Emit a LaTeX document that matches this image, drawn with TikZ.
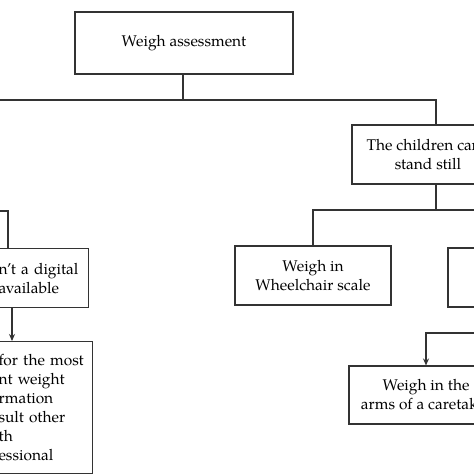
\documentclass[tikz,border=0pt]{standalone}
\usepackage{fontspec}
\setmainfont{TeX Gyre Pagella}
\usetikzlibrary{arrows.meta}
\begin{document}
\begin{tikzpicture}[x=1pt,y=-1pt,
  conn/.style={draw=black!80,line width=1.1pt},
  arr/.style={conn,-{Stealth[length=7pt,width=6pt]}},
  box/.style={draw=black!80,line width=1.1pt,fill=white,rectangle,inner sep=0pt,
    font=\fontsize{15.5}{19}\selectfont,align=center},
  lbox/.style={box,align=left,anchor=north west,inner xsep=2pt}
]
\useasboundingbox (0,0) rectangle (474,474);
\clip (0,0) rectangle (474,474);
\fill[white] (0,0) rectangle (474,474);

% nodes
\node[box,minimum width=218pt,minimum height=62pt] (t) at (184,43) {Weigh assessment};
\node[box,minimum width=152pt,minimum height=59pt] (r1) at (428,154.5) {The children can’t\\stand still};
\node[box,minimum width=156pt,minimum height=59pt] (w) at (313,275.5) {Weigh in\\Wheelchair scale};
\node[box,minimum width=150pt,minimum height=59pt] (r2) at (523,277.5) {};
\node[box,minimum width=154pt,minimum height=58pt] (c) at (426,395) {Weigh in the\\arms of a caretaker};
\node[lbox,minimum width=92pt,minimum height=59pt,text width=88pt] (l1) at (-4,248) {n’t a digital\\available};
\node[lbox,minimum width=96pt,minimum height=132pt,text width=92pt] (l2) at (-4,341) {for the most\\nt weight\\rmation\\sult other\\th\\essional};

% junction coordinates
\coordinate (j0) at (183,100);
\coordinate (jl) at (-80,100);
\coordinate (xr) at (436,0);
\coordinate (j1) at (436,210);
\coordinate (ll) at (-60,211);
\coordinate (xl) at (8,0);
\coordinate (ax) at (12,0);
\coordinate (a1) at (426,333);

% connectors
\draw[conn] (t.south -| j0) -- (j0);
\draw[conn] (jl) -- (j0) -| (r1.north -| xr);
\draw[conn] (r1.south -| xr) -- (j1);
\draw[conn] (w.north) |- (j1) -| (r2.north);
\draw[arr] (r2.south) |- (a1) -- (c.north);
\draw[conn] (ll) -| (l1.north -| xl);
\draw[arr] (l1.south -| ax) -- (l2.north -| ax);
\end{tikzpicture}
\end{document}
